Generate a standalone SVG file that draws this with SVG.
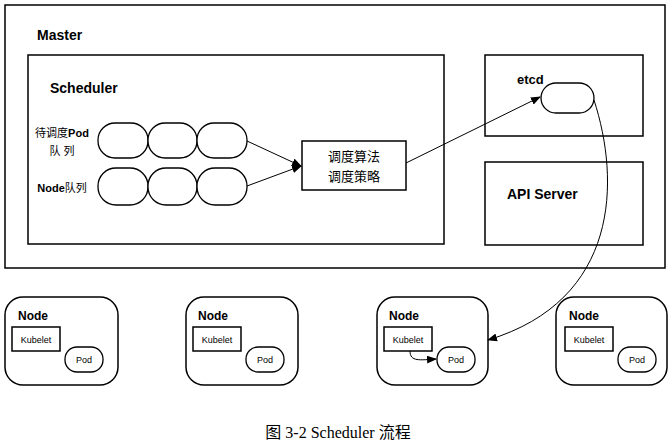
<svg xmlns="http://www.w3.org/2000/svg" width="671" height="444" viewBox="0 0 671 444">
<style>
.b{fill:#fff;stroke:#000;stroke-width:1.5}
.p{fill:#fff;stroke:#000;stroke-width:1.3}
.t{font-family:"Liberation Sans","Noto Sans CJK SC",sans-serif;fill:#000}
.bold{font-weight:bold}
.c{fill:none;stroke:#000;stroke-width:1}
</style>
<defs>
<marker id="a" markerWidth="10" markerHeight="8" refX="9" refY="4" orient="auto" markerUnits="userSpaceOnUse"><path d="M0,0 L10,4 L0,8 Z"/></marker>
</defs>
<rect width="671" height="444" fill="#fff"/>
<g id="master"><rect class="b" x="5" y="5" width="660" height="263"/><text class="t bold" x="37" y="40" font-size="14">Master</text></g>
<g id="scheduler"><rect class="b" x="28" y="55" width="416" height="189"/><text class="t bold" x="50" y="93" font-size="14">Scheduler</text>
<text class="t" x="62" y="137" font-size="11" text-anchor="middle">待调度<tspan font-weight="bold">Pod</tspan></text>
<text class="t" x="62" y="155" font-size="11" text-anchor="middle">队 列</text>
<text class="t" x="62" y="192" font-size="11" text-anchor="middle"><tspan font-weight="bold">Node</tspan>队列</text>
</g>
<g id="podqueue">
<rect class="p" x="98" y="123" width="50" height="35" rx="17" ry="17"/>
<rect class="p" x="148" y="123" width="49" height="35" rx="17" ry="17"/>
<rect class="p" x="197" y="123" width="50" height="35" rx="17" ry="17"/>
</g>
<g id="nodequeue">
<rect class="p" x="98" y="168" width="50" height="37" rx="18" ry="18"/>
<rect class="p" x="148" y="168" width="49" height="37" rx="18" ry="18"/>
<rect class="p" x="197" y="168" width="50" height="37" rx="18" ry="18"/>
</g>
<g id="algo"><rect class="b" x="302" y="141" width="104" height="49"/>
<text class="t" x="354" y="161" font-size="13" text-anchor="middle">调度算法</text>
<text class="t" x="354" y="181" font-size="13" text-anchor="middle">调度策略</text></g>
<g id="etcd"><rect class="b" x="485" y="55" width="158" height="81"/><text class="t bold" x="517" y="84" font-size="13">etcd</text>
<rect class="p" x="541" y="83" width="53" height="30" rx="15" ry="15"/></g>
<g id="api"><rect class="b" x="485" y="162" width="158" height="83"/><text class="t bold" x="507" y="199" font-size="14">API Server</text></g>
<g id="node1"><rect class="b" x="5" y="297" width="113" height="88" rx="18"/><text class="t bold" x="18" y="320" font-size="12">Node</text><rect class="b" x="12" y="327" width="48" height="24"/><text class="t" x="36" y="343" font-size="9" text-anchor="middle">Kubelet</text><rect class="p" x="65" y="347" width="38" height="25" rx="12"/><text class="t" x="84" y="363" font-size="9" text-anchor="middle">Pod</text></g>
<g id="node2"><rect class="b" x="186" y="297" width="112" height="88" rx="18"/><text class="t bold" x="198" y="320" font-size="12">Node</text><rect class="b" x="193" y="327" width="48" height="24"/><text class="t" x="217" y="343" font-size="9" text-anchor="middle">Kubelet</text><rect class="p" x="246" y="347" width="38" height="25" rx="12"/><text class="t" x="265" y="363" font-size="9" text-anchor="middle">Pod</text></g>
<g id="node3"><rect class="b" x="377" y="297" width="111" height="88" rx="18"/><text class="t bold" x="389" y="320" font-size="12">Node</text><rect class="b" x="384" y="327" width="48" height="24"/><text class="t" x="408" y="343" font-size="9" text-anchor="middle">Kubelet</text><rect class="p" x="437" y="347" width="38" height="25" rx="12"/><text class="t" x="456" y="363" font-size="9" text-anchor="middle">Pod</text></g>
<g id="node4"><rect class="b" x="556" y="297" width="111" height="88" rx="18"/><text class="t bold" x="569" y="320" font-size="12">Node</text><rect class="b" x="565" y="327" width="48" height="24"/><text class="t" x="589" y="343" font-size="9" text-anchor="middle">Kubelet</text><rect class="p" x="618" y="347" width="38" height="25" rx="12"/><text class="t" x="637" y="363" font-size="9" text-anchor="middle">Pod</text></g>
<g id="connectors">
<line class="c" x1="247" y1="141" x2="301" y2="166" marker-end="url(#a)"/>
<line class="c" x1="247" y1="186" x2="301" y2="166" marker-end="url(#a)"/>
<line class="c" x1="406" y1="163" x2="540" y2="97" marker-end="url(#a)"/>
<path class="c" d="M594,100 C620,180 620,300 488,340" marker-end="url(#a)"/>
<path class="c" d="M410,351 C410,362 420,360 436,359" marker-end="url(#a)"/>
</g>
<text x="338" y="438" font-size="16" text-anchor="middle" style="font-family:'Liberation Serif','Noto Sans CJK SC',serif">图 3-2 Scheduler 流程</text>
</svg>
